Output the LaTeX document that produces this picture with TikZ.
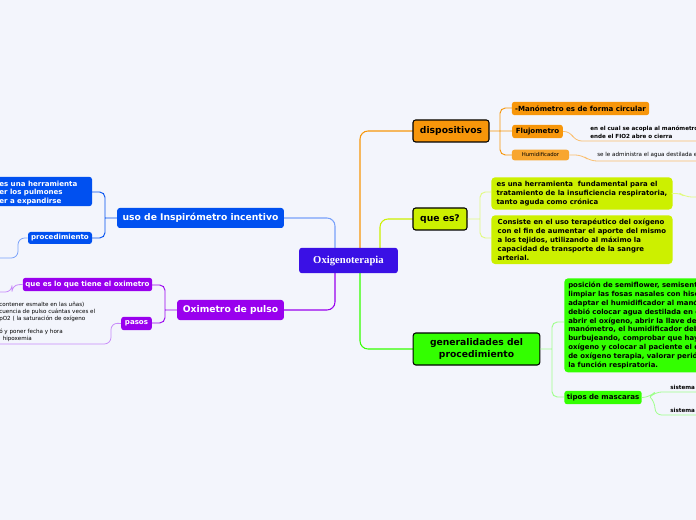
\documentclass[tikz,border=0pt]{standalone}
\usepackage{fontspec}
\setmainfont{DejaVu Sans}
\newfontfamily\serifb{Liberation Serif}
\begin{document}
\begin{tikzpicture}[x=0.75pt,y=-0.75pt,
 box/.style={rounded corners=2pt,inner sep=0pt,font=\bfseries\fontsize{5.3}{6}\selectfont},
 big/.style={box,font=\bfseries\fontsize{6.9}{8.4}\selectfont},
 para/.style={box,align=left,font=\bfseries\fontsize{5.2}{6.6}\selectfont,inner sep=3pt,anchor=north west,rounded corners=3pt},
 tiny/.style={inner sep=0pt,anchor=west,font=\fontsize{4.2}{5.2}\selectfont},
 ln/.style={line width=0.8pt,rounded corners=6pt}]
\fill[fill={rgb,255:red,243;green,245;blue,252}] (0,0) rectangle (696,520);
\clip (0,0) rectangle (696,520);
\definecolor{cor}{RGB}{247,150,10}
\definecolor{cori}{RGB}{250,190,110}
\definecolor{clime}{RGB}{204,240,0}
\definecolor{climel}{RGB}{225,250,130}
\definecolor{cgr}{RGB}{51,255,0}
\definecolor{cgrl}{RGB}{160,255,140}
\definecolor{cbl}{RGB}{0,80,240}
\definecolor{cbll}{RGB}{120,160,250}
\definecolor{cpu}{RGB}{153,0,238}
\definecolor{cpul}{RGB}{200,140,250}
\definecolor{cind}{RGB}{58,16,229}
% connectors main
\draw[ln,cor] (360,248) -- (360,131) -- (413,131);
\draw[ln,clime] (380,248) -- (380,219) -- (413,219);
\draw[ln,cgr] (360,273) -- (360,349) -- (413,349);
\draw[ln,cbll] (335,248) -- (335,218) -- (284,218);
\draw[ln,cpu] (335,273) -- (335,310) -- (284,310);
% main nodes
\node[big,fill=cind,text=white,minimum width=74pt,minimum height=19pt,font=\serifb\bfseries\fontsize{8}{9}\selectfont] (root) at (348.5,260.5) {Oxigenoterapia};
\node[big,fill=cor,draw=black,thick,minimum width=57pt,minimum height=16.5pt] (disp) at (451,131) {dispositivos};
\node[big,fill=clime,draw=black,thick,minimum width=40.5pt,minimum height=16.5pt] (que) at (440,219) {que es?};
\node[big,fill=cgr,draw=black,thick,minimum width=95pt,minimum height=24pt,align=center] (gen) at (476.5,349) {generalidades del\\procedimiento};
\node[big,fill=cbl,text=white,minimum width=125pt,minimum height=15pt] (uso) at (200.5,218) {uso de Inspirómetro incentivo};
\node[big,fill=cpu,text=white,minimum width=80pt,minimum height=15pt] (oxi) at (230.5,310) {Oximetro de pulso};
% orange children
\draw[line width=0.7pt,cor,rounded corners=4pt] (disp.east) -- (500,131) (500,131) -- (500,108) -- (512,108) (500,131) -- (512,131) (500,131)-- (500,155) -- (512,155);
\node[box,fill=cor,minimum width=103pt,minimum height=10pt] (mano) at (580.5,108.5) {-Manómetro es de forma circular};
\node[box,fill=cor,minimum width=38pt,minimum height=10pt] (flu) at (537.5,131.5) {Flujometro};
\node[box,fill=cor!85!white,minimum width=43pt,minimum height=8pt,font=\fontsize{4}{5}\selectfont] (hum) at (540.5,155) {Humidificador};
\node[tiny] (t1) at (590,129) {\bfseries en el cual se acopla al manómetro};
\node[tiny] (t2) at (590,136) {\bfseries ende el FIO2 abre o cierra};
\node[tiny] (t3) at (597,155) {se le administra el agua destilada e};
\draw[line width=0.6pt,cori,rounded corners=5pt] (flu.east) -- (570,131) -- (575,141) -- (700,141);
\draw[line width=0.6pt,cori,rounded corners=5pt] (hum.east) -- (582,155) -- (590,161) -- (700,161);
% lime children
\draw[line width=0.7pt,climel,rounded corners=4pt] (que.east) -- (480,219) (480,219) -- (480,192) -- (491,192) (480,219) -- (480,238) -- (491,238);
\node[para,fill=clime,minimum width=136pt] (q1) at (491,177) {es una herramienta\ \ fundamental para el\\tratamiento de la insuficiencia respiratoria,\\tanto aguda como crónica};
\node[para,fill=clime,minimum width=136pt] (q2) at (491,215) {Consiste en el uso terapéutico del oxígeno\\con el fin de aumentar el aporte del mismo\\a los tejidos, utilizando al máximo la\\capacidad de transporte de la sangre\\arterial.};
\draw[line width=0.6pt,climel,rounded corners=5pt] (q1.east) -- (678,192) -- (685,197) -- (700,197);
% green children
\draw[line width=0.7pt,cgrl,rounded corners=4pt] (gen.east) -- (552,349) (552,349) -- (552,322) -- (564,322) (552,349) -- (552,397) -- (564,397);
\node[para,fill=cgr] (g1) at (564,278) {posición de semiflower, semisentado,\\limpiar las fosas nasales con hisopos,\\adaptar el humidificador al manómetro,\\debió colocar agua destilada en el mismo,\\abrir el oxígeno, abrir la llave del\\manómetro, el humidificador debe estar\\burbujeando, comprobar que haya flujo de\\oxígeno y colocar al paciente el dispositivo\\de oxígeno terapia, valorar periódicamente\\la función respiratoria.};
\node[box,fill=cgr,minimum width=58pt,minimum height=10pt] (tip) at (603,397.5) {tipos de mascaras};
\draw[line width=0.6pt,cgrl,rounded corners=5pt] (tip.east) -- (650,397) -- (655,392) -- (700,392) (650,397) -- (655,402) -- (655,415) -- (700,415);
\node[tiny] (s1) at (670,387) {\bfseries sistema de};
\node[tiny] (s2) at (670,410) {\bfseries sistema de};
% blue children
\draw[line width=0.7pt,cbl,rounded corners=4pt] (uso.west) -- (105,218) (105,218) -- (105,192) -- (92,192) (105,218) -- (105,238) -- (92,238);
\node[box,fill=cbl,text=white,minimum width=75pt,minimum height=22pt] (b1) at (42,191.5) {};
\node[anchor=west,inner sep=0pt,align=left,text=white,font=\bfseries\fontsize{5.3}{6.6}\selectfont] (b1t) at (-1,193) {es una herramienta\\er los pulmones\\er a expandirse};
\node[box,fill=cbl,text=white,minimum width=48pt,minimum height=9pt] (proc) at (60,238) {procedimiento};
\draw[line width=0.6pt,cbll,rounded corners=5pt] (proc.west) -- (18,238) -- (18,258) -- (-5,258);
% purple children
\draw[line width=0.7pt,cpu,rounded corners=4pt] (oxi.west) -- (165,310) (165,310) -- (165,285) -- (152,285) (165,310) -- (165,323) -- (152,323);
\node[box,fill=cpu,text=white,minimum width=97pt,minimum height=10pt] (qt) at (87.5,284.5) {que es lo que tiene el oximetro};
\node[box,fill=cpu,text=white,minimum width=23pt,minimum height=10pt] (pas) at (136.5,323.5) {pasos};
\draw[line width=0.6pt,cpul,rounded corners=5pt] (qt.west) -- (12,285) -- (12,292) -- (-5,292);
\draw[line width=0.6pt,cpul,rounded corners=5pt] (pas.west) -- (111,323) -- (111,344) -- (-5,344);
\node[tiny,align=left] (pt) at (-1,322) {contener esmalte en las uñas)\\cuencia de pulso cuántas veces el\\pO2 ( la saturación de oxígeno\\ \\ó y poner fecha y hora\\\ \ hipoxemia};
\end{tikzpicture}
\end{document}
